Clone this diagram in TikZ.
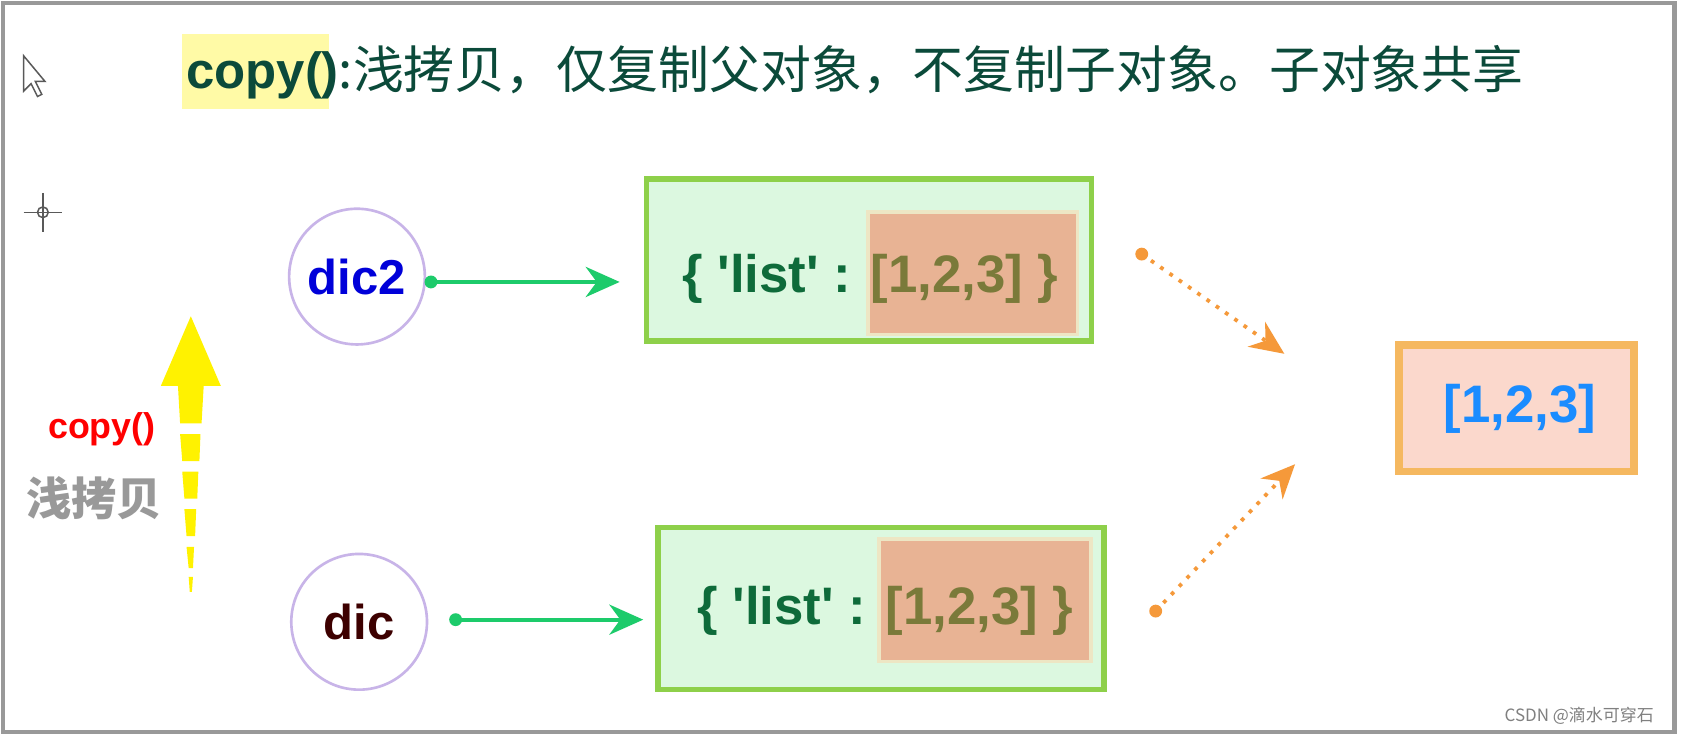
\documentclass[tikz,border=0pt]{standalone}
\usepackage{fontspec}
\setmainfont{Liberation Sans}
\newfontfamily\cjk{Noto Sans CJK SC}
\usetikzlibrary{arrows.meta}
\definecolor{titlegreen}{HTML}{0B4A3A}
\definecolor{boxfill}{HTML}{DCF8E0}
\definecolor{boxline}{HTML}{8ED04A}
\definecolor{innerfill}{HTML}{E8B394}
\definecolor{innerline}{HTML}{EDE6C4}
\definecolor{listgreen}{HTML}{0E6B3A}
\definecolor{olive}{HTML}{7A7A3A}
\definecolor{arrowgreen}{HTML}{1DCB6B}
\definecolor{orangearr}{HTML}{F5993A}
\definecolor{rfill}{HTML}{FBD8CC}
\definecolor{rline}{HTML}{F5B860}
\definecolor{rblue}{HTML}{1A8CFF}
\definecolor{lav}{HTML}{C8B4E8}
\tikzset{
  varcirc/.style={circle,draw=lav,line width=0.7pt,fill=white,minimum size=36pt,inner sep=0pt,font=\fontsize{13}{15}\selectfont\bfseries},
  objbox/.style={draw=boxline,line width=1.5pt,fill=boxfill},
  innerbox/.style={draw=innerline,line width=1pt,fill=innerfill},
  refarrow/.style={draw=arrowgreen,line width=1pt,-{Stealth[length=9pt,width=8pt]}},
  sharearrow/.style={draw=orangearr,line width=1pt,dotted,-{Stealth[length=9pt,width=8pt]}},
}
\newcommand{\listtext}{\fontsize{14}{16}\selectfont\bfseries\textcolor{listgreen}{\{ \textquotesingle list\textquotesingle\ :} \textcolor{olive}{[1,2,3] \}}}
\begin{document}
\begin{tikzpicture}[x=0.01cm,y=-0.01cm]
\useasboundingbox (0,0) rectangle (1568,687);
\fill[white] (0,0) rectangle (1568,687);
\draw[gray!80,line width=1.2pt] (3,3) rectangle (1562,683);
% title
\fill[yellow!35!white] (170,32) rectangle (307,102);
\node[anchor=west,inner sep=0pt] (title) at (173,67) {\fontsize{13.5}{15}\selectfont\textcolor{titlegreen}{\bfseries copy()}\textcolor{titlegreen}{\cjk :浅拷贝，仅复制父对象，不复制子对象。子对象共享}};
% crosshair and cursor
\draw[gray!70!black,line width=0.4pt] (22,198) -- (58,198) (40,180) -- (40,216);
\draw[gray!70!black,line width=0.4pt] (40,198) circle (5);
\draw[gray!70!black,line width=0.4pt,fill=white] (22,52) -- (22,85) -- (29,78) -- (35,90) -- (39,88) -- (33,76) -- (42,76) -- cycle;
% circles
\node[varcirc,text=blue!85!black] (dic2) at (333,258) {dic2};
\node[varcirc,text=black!60!red!60!black] (dic) at (335,580) {dic};
% boxes
\draw[objbox] (603,167) rectangle (1018,318);
\draw[innerbox] (810,198) rectangle (1005,312);
\node (box1) at (812,260) {\listtext};
\draw[objbox] (614,492) rectangle (1030,643);
\draw[innerbox] (820,503) rectangle (1018,617);
\node (box2) at (826,570) {\listtext};
\coordinate (b1w) at (578,263);
\coordinate (b2w) at (600,578);
\fill[arrowgreen] (402,263) circle (6);
\fill[arrowgreen] (425,578) circle (6);
\draw[refarrow] (402,263) -- (b1w);
\draw[refarrow] (425,578) -- (b2w);
% shared list
\draw[draw=rline,fill=rfill,line width=2pt] (1305,322) rectangle (1524,440);
\node[text=rblue,font=\fontsize{14}{16}\selectfont\bfseries] (lst) at (1418,381) {[1,2,3]};
\coordinate (s1) at (1065,237); \coordinate (e1) at (1198,330);
\coordinate (s2) at (1078,570); \coordinate (e2) at (1208,433);
\fill[orangearr] (s1) circle (6); \fill[orangearr] (s2) circle (6);
\draw[sharearrow] (s1) -- (e1);
\draw[sharearrow] (s2) -- (e2);
% yellow copy arrow
\fill[yellow] (150,360) -- (178,295) -- (206,360) -- (190,360) -- (188,395) -- (168,395) -- (166,360) -- cycle;
\fill[yellow] (168,405) -- (187,405) -- (186,430) -- (170,430) -- cycle;
\fill[yellow] (170,440) -- (185,440) -- (184,465) -- (172,465) -- cycle;
\fill[yellow] (172,475) -- (183,475) -- (182,500) -- (174,500) -- cycle;
\fill[yellow] (174,510) -- (181,510) -- (180,530) -- (176,530) -- cycle;
\fill[yellow] (176,538) -- (180,538) -- (179,552) -- (177,552) -- cycle;
\node[text=red,font=\fontsize{9.5}{11}\selectfont\bfseries] (cp) at (95,400) {copy()};
\node[text=gray!80,font=\cjk\fontsize{12}{13}\selectfont\bfseries] (sh) at (88,465) {浅拷贝};
\node[text=gray,font=\cjk\fontsize{4.5}{5}\selectfont,anchor=east] (csdn) at (1555,668) {CSDN @滴水可穿石};
\end{tikzpicture}
\end{document}
